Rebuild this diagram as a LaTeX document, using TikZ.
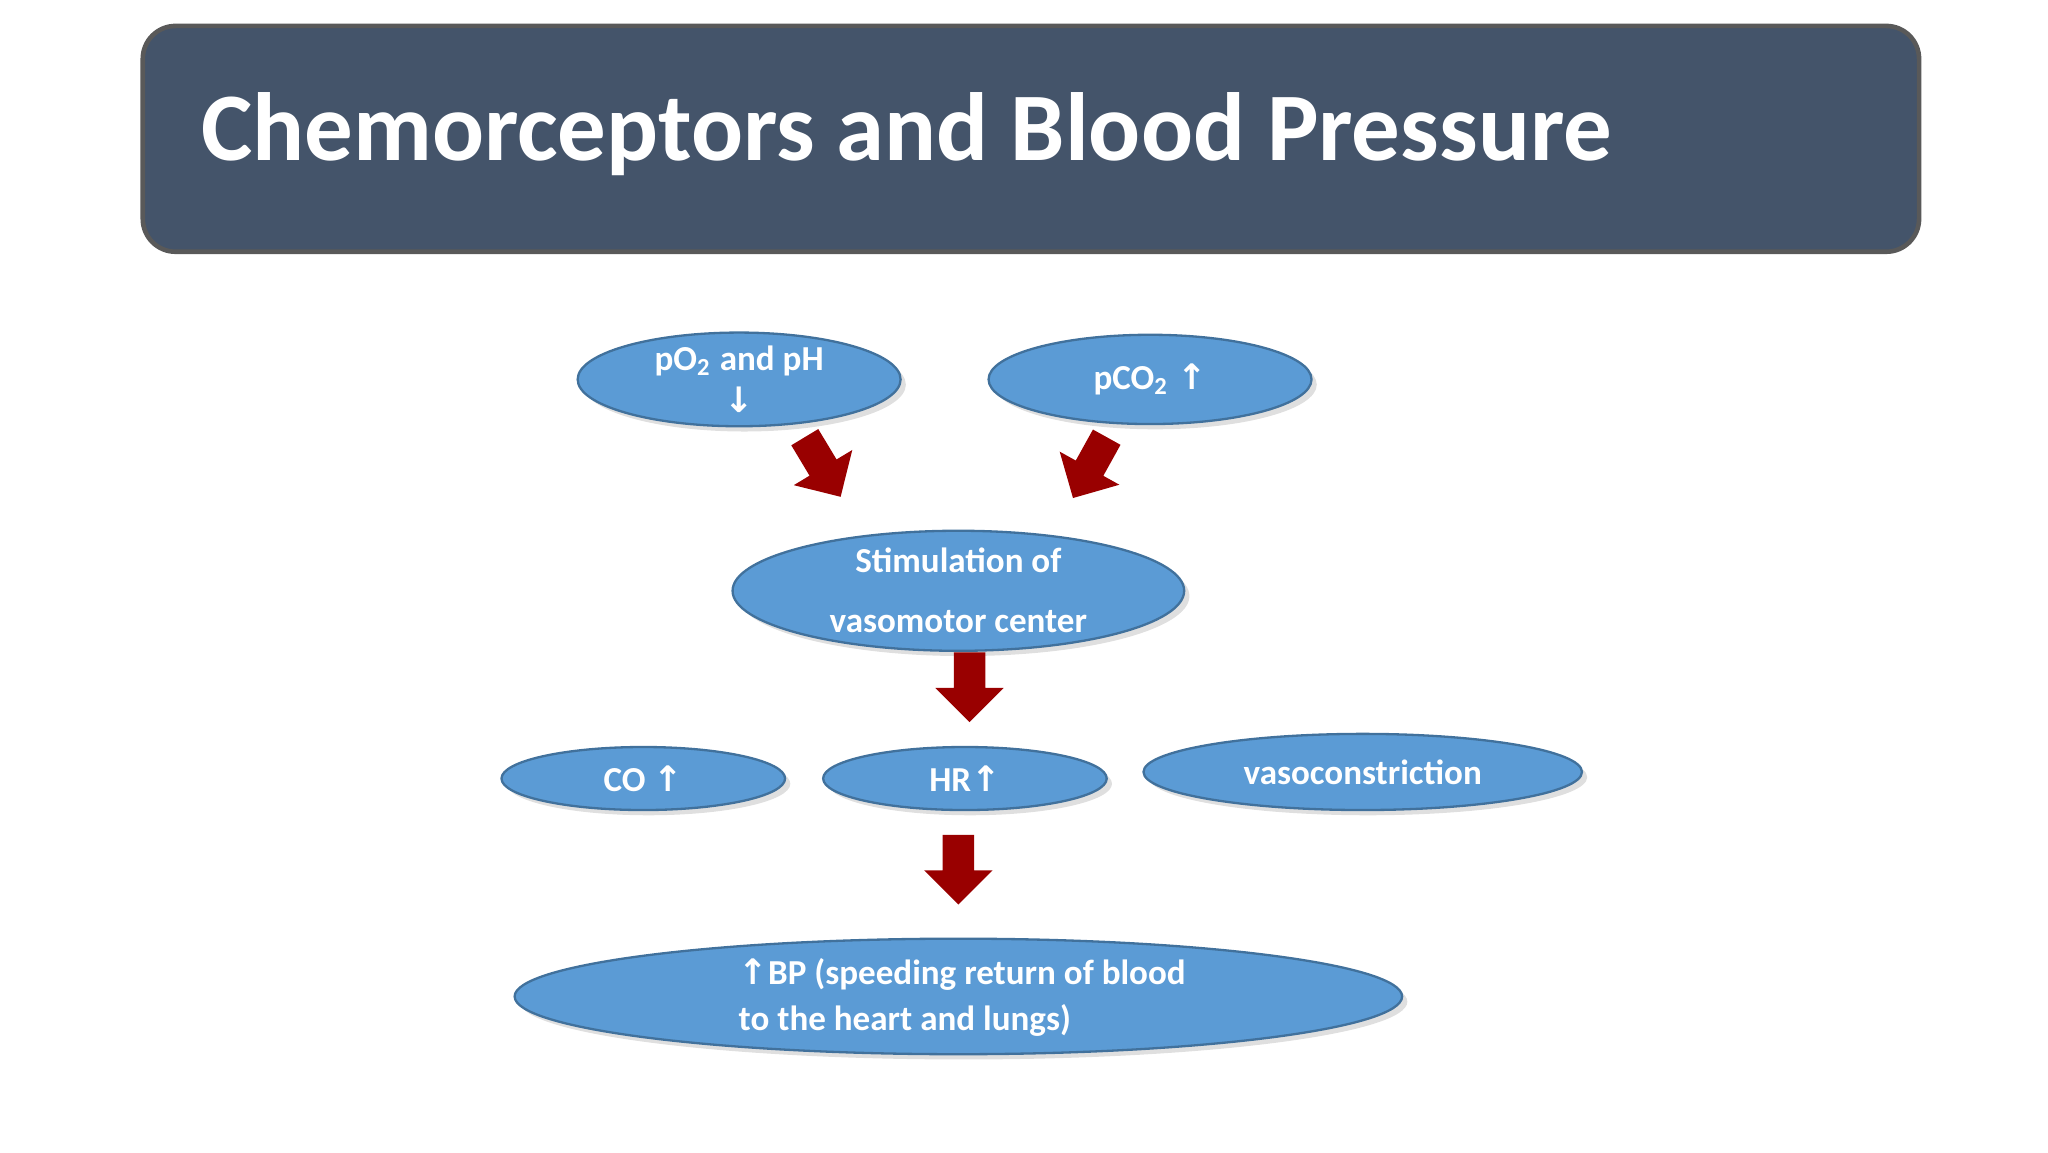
\documentclass[tikz,border=0pt]{standalone}
\usepackage{fontspec}
\setmainfont{Carlito}
\newfontfamily\arr{DejaVu Sans}
\usetikzlibrary{shapes.geometric,shadows}
\definecolor{ell}{HTML}{5B9BD5}
\definecolor{ellb}{HTML}{41719C}
\definecolor{ttl}{HTML}{44546A}
\definecolor{dred}{HTML}{990000}
\newcommand{\up}{{\arr\char"2191}}
\newcommand{\dn}{{\arr\char"2193}}
\begin{document}
\begin{tikzpicture}[x=1cm,y=-1cm,
  el/.style={ellipse,fill=ell,draw=ellb,line width=0.5pt,inner sep=0pt,text=white,font=\bfseries\fontsize{7.6pt}{11pt}\selectfont,align=center,drop shadow={opacity=0.25,shadow xshift=0.04cm,shadow yshift=-0.04cm}},
  barrow/.pic={\fill[dred] (-0.12,0) -- (0.12,0) -- (0.12,0.27) -- (0.26,0.27) -- (0,0.53) -- (-0.26,0.27) -- (-0.12,0.27) -- cycle;}]
\useasboundingbox (0,0) rectangle (15.6,8.775);
\node[draw=gray!70!black,line width=1pt,fill=ttl,rounded corners=0.25cm,minimum width=13.53cm,minimum height=1.72cm,anchor=north west] (title) at (1.07,0.18) {};
\node[anchor=west,text=white,font=\bfseries\fontsize{21pt}{25pt}\selectfont] (tt) at (1.41,1.02) {Chemorceptors and Blood Pressure};
\node[el,minimum width=2.46cm,minimum height=0.68cm] (po) at (5.63,2.89) {pO\textsubscript{2} and pH\\[-2pt]\dn};
\node[el,minimum width=2.46cm,minimum height=0.68cm] (pco) at (8.76,2.89) {pCO\textsubscript{2} \up};
\node[el,minimum width=3.44cm,minimum height=0.78cm] (stim) at (7.30,4.50) {Stimulation of\\[2pt]vasomotor center};
\node[el,minimum width=2.16cm,minimum height=0.48cm] (co) at (4.90,5.93) {CO \up};
\node[el,minimum width=2.16cm,minimum height=0.48cm] (hr) at (7.35,5.93) {HR\up};
\node[el,minimum width=3.34cm,minimum height=0.58cm] (vaso) at (10.38,5.88) {vasoconstriction};
\node[el,minimum width=6.76cm,minimum height=0.88cm] (bp) at (7.30,7.59) {};
\node[text=white,font=\bfseries\fontsize{7.6pt}{10pt}\selectfont,align=left,anchor=west,inner sep=0pt] (bpt) at (5.62,7.60) {\up BP (speeding return of blood\\to the heart and lungs)};
\pic[rotate=31] at (6.13,3.33) {barrow};
\pic[rotate=-29] at (8.43,3.33) {barrow};
\pic at (7.385,4.97) {barrow};
\pic at (7.30,6.36) {barrow};
\end{tikzpicture}
\end{document}
